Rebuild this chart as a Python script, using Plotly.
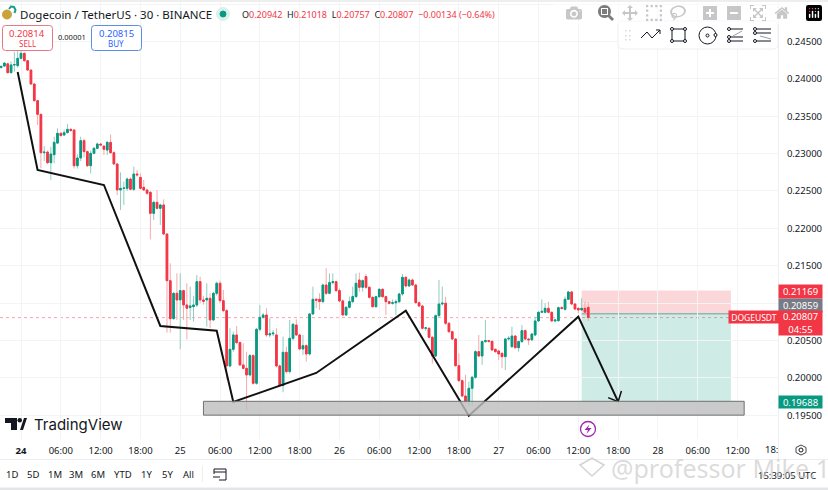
import pandas as pd
import plotly.graph_objects as go

# 30 minute DOGEUSDT candles
opens = [
    0.24150, 0.24170, 0.24200, 0.24082, 0.24185, 0.24175, 0.24273, 0.24340, 0.24242, 0.24117,
    0.23930, 0.23707, 0.23525, 0.23012, 0.23020, 0.22878, 0.22985, 0.23140, 0.23271, 0.23248,
    0.23280, 0.23324, 0.23315, 0.22838, 0.22941, 0.23173, 0.23026, 0.22838, 0.23003, 0.23070,
    0.23128, 0.23100, 0.23047, 0.23150, 0.23012, 0.22861, 0.22513, 0.22535, 0.22535, 0.22660,
    0.22522, 0.22727, 0.22682, 0.22549, 0.22513, 0.22482, 0.22201, 0.22348, 0.22268, 0.22313,
    0.21925, 0.21301, 0.20793, 0.21132, 0.21043, 0.21168, 0.20976, 0.20941, 0.20954, 0.20976,
    0.21288, 0.21043, 0.21043, 0.21065, 0.20776, 0.21132, 0.21266, 0.21034, 0.20900, 0.20161,
    0.20383, 0.20575, 0.20473, 0.20174, 0.20129, 0.20040, 0.20299, 0.19929, 0.20651, 0.20811,
    0.20842, 0.20575, 0.20590, 0.20575, 0.20161, 0.19898, 0.20343, 0.20085, 0.20530, 0.20708,
    0.20575, 0.20388, 0.20432, 0.20321, 0.20856, 0.21052, 0.21052, 0.21021, 0.21243, 0.21132,
    0.21275, 0.21288, 0.21168, 0.21030, 0.20842, 0.20945, 0.21021, 0.21088, 0.21310, 0.21212,
    0.21355, 0.21212, 0.21078, 0.20953, 0.21087, 0.21185, 0.21087, 0.21020, 0.20998, 0.21005,
    0.21020, 0.21123, 0.21346, 0.21230, 0.21310, 0.21243, 0.21007, 0.20962, 0.20664, 0.20664,
    0.20544, 0.20294, 0.20833, 0.20989, 0.21000, 0.20731, 0.20619, 0.20521, 0.20165, 0.19964,
    0.19759, 0.19684, 0.19862, 0.20009, 0.20352, 0.20294, 0.20486, 0.20499, 0.20490, 0.20383,
    0.20361, 0.20330, 0.20285, 0.20521, 0.20419, 0.20561, 0.20405, 0.20486, 0.20633, 0.20521,
    0.20510, 0.20575, 0.20762, 0.20878, 0.20878, 0.20931, 0.20878, 0.20762, 0.20766, 0.20940,
    0.20918, 0.21052, 0.21150, 0.20989, 0.20931, 0.20909, 0.20931, 0.20945,
]
highs = [
    0.24180, 0.24225, 0.24215, 0.24230, 0.24362, 0.24370, 0.24390, 0.24355, 0.24250, 0.24120,
    0.23940, 0.23720, 0.23530, 0.23100, 0.23040, 0.23092, 0.23226, 0.23337, 0.23290, 0.23320,
    0.23395, 0.23340, 0.23330, 0.22990, 0.23226, 0.23200, 0.23040, 0.23040, 0.23090, 0.23150,
    0.23140, 0.23110, 0.23170, 0.23257, 0.23030, 0.22870, 0.22749, 0.22625, 0.22680, 0.22680,
    0.22825, 0.22780, 0.22736, 0.22647, 0.22530, 0.22500, 0.22370, 0.22513, 0.22330, 0.22388,
    0.21930, 0.21533, 0.21150, 0.21399, 0.21399, 0.21180, 0.21266, 0.21221, 0.21100, 0.21377,
    0.21355, 0.21100, 0.21266, 0.21132, 0.21150, 0.21288, 0.21301, 0.21177, 0.20920, 0.20664,
    0.20620, 0.20695, 0.20490, 0.20464, 0.20352, 0.20320, 0.20320, 0.20670, 0.20976, 0.20870,
    0.20932, 0.20798, 0.20640, 0.20664, 0.20180, 0.20553, 0.20419, 0.20776, 0.20730, 0.20785,
    0.20590, 0.20575, 0.20450, 0.20870, 0.21221, 0.21070, 0.21132, 0.21260, 0.21466, 0.21399,
    0.21399, 0.21300, 0.21199, 0.21050, 0.20960, 0.21088, 0.21221, 0.21399, 0.21408, 0.21320,
    0.21390, 0.21230, 0.21090, 0.21100, 0.21200, 0.21200, 0.21100, 0.21030, 0.21050, 0.21050,
    0.21140, 0.21390, 0.21360, 0.21330, 0.21330, 0.21260, 0.21020, 0.20980, 0.20680, 0.20680,
    0.20560, 0.20850, 0.21310, 0.21221, 0.21087, 0.20745, 0.20630, 0.20535, 0.20330, 0.19980,
    0.20040, 0.19951, 0.20030, 0.20370, 0.20575, 0.20500, 0.20775, 0.20510, 0.20500, 0.20395,
    0.20375, 0.20340, 0.20535, 0.20560, 0.20686, 0.20575, 0.20500, 0.20708, 0.20650, 0.20535,
    0.20600, 0.20820, 0.20890, 0.21052, 0.21000, 0.21020, 0.20890, 0.20790, 0.20955, 0.20960,
    0.21090, 0.21165, 0.21165, 0.21000, 0.20945, 0.21065, 0.21020, 0.21011,
]
lows = [
    0.24140, 0.24160, 0.24070, 0.24075, 0.24095, 0.24150, 0.24260, 0.24230, 0.24110, 0.23925,
    0.23700, 0.23382, 0.22803, 0.22900, 0.22860, 0.22647, 0.22870, 0.23137, 0.23230, 0.23240,
    0.23270, 0.23290, 0.22800, 0.22800, 0.22900, 0.22950, 0.22820, 0.22736, 0.22990, 0.23060,
    0.23100, 0.22981, 0.22980, 0.23000, 0.22850, 0.22446, 0.22246, 0.22313, 0.22500, 0.22510,
    0.22500, 0.22690, 0.22520, 0.22500, 0.22450, 0.21854, 0.22112, 0.22250, 0.22045, 0.21910,
    0.20606, 0.20606, 0.20780, 0.20776, 0.20383, 0.20776, 0.20517, 0.20776, 0.20753, 0.20950,
    0.21000, 0.20980, 0.20686, 0.20664, 0.20760, 0.21100, 0.21000, 0.20880, 0.19980, 0.20140,
    0.20350, 0.20450, 0.20160, 0.20110, 0.19563, 0.20020, 0.19910, 0.19910, 0.20620, 0.20790,
    0.20550, 0.20540, 0.20560, 0.20140, 0.19880, 0.19809, 0.20060, 0.20060, 0.20500, 0.20560,
    0.20370, 0.20308, 0.20219, 0.20300, 0.20842, 0.20932, 0.20909, 0.20998, 0.21110, 0.21120,
    0.21250, 0.21150, 0.21010, 0.20830, 0.20830, 0.20930, 0.21000, 0.21070, 0.21154, 0.21154,
    0.21190, 0.21060, 0.20940, 0.20940, 0.21070, 0.21070, 0.20842, 0.20980, 0.20980, 0.20842,
    0.21000, 0.21100, 0.21210, 0.21215, 0.21230, 0.20990, 0.20950, 0.20650, 0.20630, 0.20530,
    0.20196, 0.20280, 0.20820, 0.20970, 0.20710, 0.20600, 0.20505, 0.20150, 0.19950, 0.19745,
    0.19670, 0.19625, 0.19625, 0.19990, 0.20280, 0.20174, 0.20470, 0.20470, 0.20360, 0.20335,
    0.20240, 0.20129, 0.20107, 0.20500, 0.20400, 0.20390, 0.20352, 0.20470, 0.20505, 0.20441,
    0.20495, 0.20560, 0.20750, 0.20870, 0.20865, 0.20865, 0.20750, 0.20745, 0.20750, 0.20915,
    0.20900, 0.21040, 0.20975, 0.20905, 0.20864, 0.20895, 0.20842, 0.20762,
]
closes = [
    0.24165, 0.24210, 0.24082, 0.24185, 0.24190, 0.24273, 0.24340, 0.24242, 0.24117, 0.23930,
    0.23707, 0.23525, 0.23012, 0.23020, 0.22878, 0.22994, 0.23150, 0.23271, 0.23240, 0.23280,
    0.23324, 0.23310, 0.22838, 0.22941, 0.23173, 0.23026, 0.22838, 0.23003, 0.23070, 0.23128,
    0.23115, 0.23057, 0.23150, 0.23012, 0.22861, 0.22513, 0.22535, 0.22540, 0.22660, 0.22522,
    0.22727, 0.22715, 0.22535, 0.22513, 0.22469, 0.22201, 0.22348, 0.22268, 0.22313, 0.21925,
    0.21301, 0.20793, 0.21132, 0.21043, 0.21168, 0.20976, 0.20932, 0.20963, 0.20976, 0.21288,
    0.21043, 0.21025, 0.21065, 0.20776, 0.21132, 0.21266, 0.21034, 0.20900, 0.20161, 0.20383,
    0.20575, 0.20473, 0.20174, 0.20129, 0.20040, 0.20299, 0.19929, 0.20651, 0.20811, 0.20842,
    0.20575, 0.20590, 0.20600, 0.20161, 0.19898, 0.20343, 0.20085, 0.20530, 0.20718, 0.20575,
    0.20388, 0.20432, 0.20321, 0.20856, 0.21052, 0.21040, 0.21021, 0.21243, 0.21132, 0.21275,
    0.21288, 0.21168, 0.21030, 0.20842, 0.20945, 0.21021, 0.21088, 0.21266, 0.21212, 0.21301,
    0.21212, 0.21078, 0.20953, 0.21087, 0.21185, 0.21087, 0.21020, 0.20998, 0.21005, 0.21020,
    0.21123, 0.21346, 0.21230, 0.21310, 0.21243, 0.21007, 0.20962, 0.20664, 0.20670, 0.20544,
    0.20294, 0.20833, 0.20989, 0.21000, 0.20731, 0.20619, 0.20521, 0.20165, 0.19964, 0.19759,
    0.19684, 0.19862, 0.20009, 0.20352, 0.20294, 0.20486, 0.20499, 0.20490, 0.20374, 0.20352,
    0.20321, 0.20285, 0.20521, 0.20530, 0.20561, 0.20405, 0.20486, 0.20633, 0.20521, 0.20510,
    0.20588, 0.20762, 0.20878, 0.20890, 0.20931, 0.20878, 0.20762, 0.20775, 0.20940, 0.20930,
    0.21052, 0.21150, 0.20989, 0.20922, 0.20909, 0.20931, 0.20880, 0.20807,
]

# hand drawn zigzag on the chart: bar number from 24th 00:00, price
path_bars = [-1, 5, 25, 42, 59, 64, 89, 116, 135, 168, 180]
path_prices = [0.24091, 0.22781, 0.22580, 0.20695, 0.20632, 0.19679, 0.20067, 0.20900, 0.19496, 0.20820, 0.19683]
head_bars = [177, 180, 181]
head_prices = [0.19737, 0.19683, 0.19826]

tick_bars = [0, 12, 24, 36, 48, 60, 72, 84, 96, 108, 120, 132, 144, 156, 168, 180, 192, 204, 216]
tick_labels = ["<b>24</b>", "06:00", "12:00", "18:00", "25", "06:00", "12:00", "18:00", "26", "06:00",
               "12:00", "18:00", "27", "06:00", "12:00", "18:00", "28", "06:00", "12:00"]

last_price = 0.20807
stop_price = 0.21169
entry_price = 0.20859
target_price = 0.19688
zone_top = 0.19688
zone_bottom = 0.19503

W, H = 828, 490
ORIGIN = pd.Timestamp("2025-08-24 00:00")


def bar(i):
    return ORIGIN + pd.Timedelta(minutes=30 * i)


def px(x):
    return x / W


def py(y):
    return 1 - y / H


def rbox(x0, y0, x1, y1, r):
    # rounded box path, in paper fractions
    p = [(x0 + r, y0), (x1 - r, y0), (x1, y0 + r), (x1, y1 - r), (x1 - r, y1), (x0 + r, y1), (x0, y1 - r), (x0, y0 + r)]
    s = f"M {px(p[0][0])},{py(p[0][1])} L {px(p[1][0])},{py(p[1][1])} Q {px(x1)},{py(y0)} {px(p[2][0])},{py(p[2][1])} "
    s += f"L {px(p[3][0])},{py(p[3][1])} Q {px(x1)},{py(y1)} {px(p[4][0])},{py(p[4][1])} "
    s += f"L {px(p[5][0])},{py(p[5][1])} Q {px(x0)},{py(y1)} {px(p[6][0])},{py(p[6][1])} "
    s += f"L {px(p[7][0])},{py(p[7][1])} Q {px(x0)},{py(y0)} {px(p[0][0])},{py(p[0][1])} Z"
    return s


shapes = []
annos = []


def pshape(kind, x0, y0, x1, y1, color="#131722", fill=None, width=1):
    shapes.append(dict(type=kind, xref="paper", yref="paper", x0=px(x0), x1=px(x1), y0=py(y0), y1=py(y1),
                       line=dict(color=color, width=width), fillcolor=fill, layer="above"))


def ppath(d, color="#131722", fill=None, width=1):
    shapes.append(dict(type="path", xref="paper", yref="paper", path=d,
                       line=dict(color=color, width=width), fillcolor=fill, layer="above"))


def poly(points, close=False):
    s = "M " + " L ".join(f"{px(a)},{py(b)}" for a, b in points)
    return s + (" Z" if close else "")


def text(x, y, s, size=10, color="#131722", anchor="center", bg=None, w=None, h=None, family=None):
    d = dict(xref="paper", yref="paper", x=px(x), y=py(y), text=s, showarrow=False, xanchor=anchor, yanchor="middle",
             font=dict(size=size, color=color), borderpad=0)
    if family:
        d["font"]["family"] = family
    if bg:
        d["bgcolor"] = bg
    if w:
        d["width"] = w
    if h:
        d["height"] = h
    annos.append(d)


times = [bar(i - 6) for i in range(len(opens))]
body_tops = [max(o, c) for o, c in zip(opens, closes)]
body_bottoms = [min(o, c) for o, c in zip(opens, closes)]

fig = go.Figure()
# pale wicks first, solid bodies over them
fig.add_trace(go.Candlestick(
    x=times, open=opens, high=highs, low=lows, close=closes, whiskerwidth=0,
    increasing=dict(line=dict(color="#8fcdbf", width=1), fillcolor="#089981"),
    decreasing=dict(line=dict(color="#f7a8ae", width=1), fillcolor="#f23645"),
    showlegend=False, hoverinfo="skip",
))
fig.add_trace(go.Candlestick(
    x=times, open=opens, high=body_tops, low=body_bottoms, close=closes, whiskerwidth=0,
    increasing=dict(line=dict(color="#089981", width=1), fillcolor="#089981"),
    decreasing=dict(line=dict(color="#f23645", width=1), fillcolor="#f23645"),
    showlegend=False, hoverinfo="skip",
))
fig.add_trace(go.Scatter(x=[bar(i) for i in path_bars], y=path_prices, mode="lines",
                         line=dict(color="#111111", width=2), showlegend=False, hoverinfo="skip"))
fig.add_trace(go.Scatter(x=[bar(i) for i in head_bars], y=head_prices, mode="lines",
                         line=dict(color="#111111", width=1.5), showlegend=False, hoverinfo="skip"))

# drawings tied to the price scale
shapes.append(dict(type="rect", xref="x", yref="y", x0=bar(55), x1=bar(218), y0=zone_bottom, y1=zone_top,
                   line=dict(color="#6f7072", width=1), fillcolor="rgba(190,190,190,0.82)", layer="above"))
shapes.append(dict(type="rect", xref="x", yref="y", x0=bar(169), x1=bar(214), y0=entry_price, y1=stop_price,
                   line=dict(width=0), fillcolor="rgba(242,54,69,0.2)", layer="below"))
shapes.append(dict(type="rect", xref="x", yref="y", x0=bar(169), x1=bar(214), y0=target_price, y1=entry_price,
                   line=dict(width=0), fillcolor="rgba(8,153,129,0.2)", layer="below"))
shapes.append(dict(type="line", xref="x", yref="y", x0=bar(169), x1=bar(214), y0=entry_price, y1=entry_price,
                   line=dict(color="#8fb8b0", width=1.5), layer="below"))
shapes.append(dict(type="line", xref="x domain", yref="y", x0=0, x1=1, y0=last_price, y1=last_price,
                   line=dict(color="#f7a8ae", width=1, dash="dot"), layer="below"))

# frame
pshape("line", 0, 459.5, W, 459.5, color="#eceef2")
pshape("line", 778.5, 0, 778.5, 459, color="#eceef2")
pshape("rect", 0, 488, W, H, color="#e4e5e8", fill="#e4e5e8")
pshape("rect", 0, 0, W, 1.5, color="#eeeeee", fill="#eeeeee")

# header
pshape("circle", 2.5, 10, 11.5, 19, color="#c9a23a", fill="#c9a23a")
ppath(poly([(9, 9), (11, 6.5), (14, 7), (15.5, 10), (14.5, 13)]), color="#1a9c8a", width=2)
text(19, 14, "Dogecoin / TetherUS · 30 · BINANCE", size=11.5, anchor="left")
pshape("circle", 216.5, 7.5, 229.5, 20.5, color="#d9f0ec", fill="#d9f0ec")
pshape("circle", 220, 11, 226, 17, color="#089981", fill="#089981")
red = "#f23645"
ohlc = "".join(f'{k}<span style="color:{red}">{v}</span>  ' for k, v in
               [("O", "0.20942"), ("H", "0.21018"), ("L", "0.20757"), ("C", "0.20807")])
text(241, 14, ohlc + f'<span style="color:{red}">−0.00134 (−0.64%)</span>', size=9, anchor="left")

# sell / buy
ppath(rbox(2.5, 25.5, 52.5, 50.5, 3), color="#e57a83", fill="white")
text(27, 33, "0.20814", size=9.5, color=red)
text(27, 44, "SELL", size=8, color=red)
text(72, 37, "0.00001", size=7.5)
ppath(rbox(91.5, 25.5, 141.5, 50.5, 3), color="#5b8fe0", fill="white")
text(116, 33, "0.20815", size=9.5, color="#2962ff")
text(116, 44, "BUY", size=8, color="#2962ff")

# drawing toolbar
ppath(rbox(618, 21, 778, 49, 5), color="#eceef1", fill="white")
for dx in (625, 629):
    for dy in (30, 35, 39):
        pshape("rect", dx, dy, dx + 1.5, dy + 1.5, color="#d5d7dc", fill="#d5d7dc", width=0)
ppath(poly([(641, 38), (647, 32), (652, 38), (660, 30)]))
ppath(poly([(656, 30), (660, 30), (660, 34)]))
ppath(poly([(672, 29), (685, 29), (685, 41), (672, 41)], close=True))
for cx, cy in [(672, 29), (685, 29), (685, 41), (672, 41)]:
    pshape("circle", cx - 1.5, cy - 1.5, cx + 1.5, cy + 1.5, fill="white")
pshape("circle", 699, 27, 716, 44, fill="white")
pshape("circle", 706, 34, 709, 37, fill="white")
pshape("circle", 714, 33.5, 717, 36.5, fill="white")
for x0, y0, x1 in [(729, 29, 743), (729, 37, 743), (729, 41, 743),
                   (755, 29, 771), (755, 33, 771), (755, 41, 771)]:
    ppath(poly([(x0, y0), (x1, y0)]))
    pshape("circle", x0 - 1.5, y0 - 1.5, x0 + 1.5, y0 + 1.5, fill="white")
ppath(poly([(733, 36), (742, 31)]), color="#9a9ca3")
ppath(poly([(760, 36), (771, 39)]), color="#9a9ca3")

# price labels on the right
text(778, 291, "0.21169", size=9.5, color="white", anchor="left", bg=red, w=43, h=13)
text(778, 305, "0.20859", size=9.5, color="white", anchor="left", bg="#787b86", w=43, h=13)
text(778, 322.5, "0.20807<br>04:55", size=9.5, color="white", anchor="left", bg=red, w=43, h=24)
text(728, 317, "DOGEUSDT", size=8.5, color="white", anchor="left", bg=red, w=50, h=12)
text(778, 401.5, "0.19688", size=9.5, color="white", anchor="left", bg="#089981", w=43, h=12)

# TradingView mark
ppath(poly([(5, 418), (17, 418), (17, 430), (11, 430), (11, 423), (5, 423)], close=True), color="#131722", fill="#131722", width=0)
pshape("circle", 17.5, 418, 22, 422.5, color="#131722", fill="#131722", width=0)
ppath(poly([(20, 430), (24, 418), (27, 418), (23, 430)], close=True), color="#131722", fill="#131722", width=0)
text(33, 424, "TradingView", size=15, anchor="left", family="Inter")

# range buttons
for x, s in [(12, "1D"), (33, "5D"), (55, "1M"), (76, "3M"), (98, "6M"), (123, "YTD"), (146, "1Y"), (167, "5Y"), (188, "All")]:
    text(x, 474, s, size=9.5)
pshape("line", 202.5, 466, 202.5, 482, color="#eceef2")
ppath(poly([(214, 474), (214, 469), (226, 469), (226, 480), (219, 480)]))
ppath(poly([(213, 477), (220, 477)]))
ppath(poly([(214, 472), (226, 472)]))

# bottom right
text(771, 449, "18:", size=9.5)
pshape("circle", 580.5, 421.5, 595.5, 436.5, color="#9c27b0", fill="white", width=1.3)
ppath(poly([(589.5, 424.5), (584.5, 430), (588, 430), (586.5, 434), (591.5, 428), (588, 428)], close=True), color="#9c27b0", fill="#9c27b0", width=0)
ppath(poly([(801, 445), (806, 447.5), (806, 452.5), (801, 455), (796, 452.5), (796, 447.5)], close=True), color="#444444")
pshape("circle", 799, 448, 803, 452)
text(787, 475, "15:39:05 UTC", size=9.5)
# watermark
text(610, 468, "@professor Mike.1", size=25, color="rgba(200,200,200,0.65)", anchor="left")
ppath(poly([(580, 465), (592, 476), (604, 465), (592, 458)], close=True), color="rgba(200,200,200,0.8)", width=1.5)

fig.update_layout(
    width=W, height=H, autosize=False,
    margin=dict(l=0, r=0, t=0, b=0),
    paper_bgcolor="white", plot_bgcolor="white",
    font=dict(family="Noto Sans, Open Sans, sans-serif", size=9.5, color="#131722"),
    shapes=shapes, annotations=annos, hovermode=False,
    xaxis=dict(
        domain=[0, 778 / W], range=[bar(-6.33), bar(228.2)], type="date",
        tickmode="array", tickvals=[bar(i) for i in tick_bars], ticktext=tick_labels,
        showgrid=True, gridcolor="#f3f4f6", gridwidth=1, zeroline=False, showline=False,
        ticks="outside", ticklen=3, tickcolor="rgba(0,0,0,0)", rangeslider=dict(visible=False),
    ),
    yaxis=dict(
        domain=[1 - 439 / H, 1], range=[0.19184, 0.250535], side="right", dtick=0.005, tick0=0.195,
        tickformat=".5f", showgrid=True, gridcolor="#f3f4f6", gridwidth=1, zeroline=False, showline=False,
        ticks="outside", ticklen=6, tickcolor="rgba(0,0,0,0)",
    ),
)

# the page body has a default margin, take it off so the figure fills the window
fig.write_html("out.html", post_script="document.body.style.margin='0';document.body.style.overflow='hidden';")
